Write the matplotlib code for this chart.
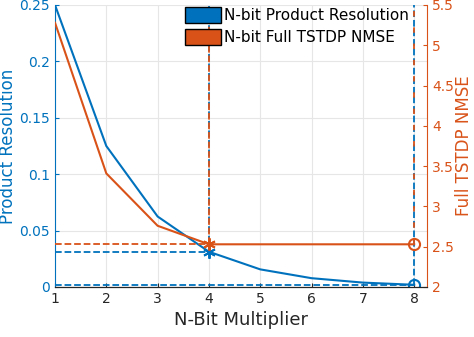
import matplotlib.pyplot as plt
import numpy as np
from matplotlib.patches import Patch

bits = [1, 2, 3, 4, 5, 6, 7, 8]
resolution = [0.25, 0.125, 0.0625, 0.03125, 0.015625, 0.0078125, 0.00390625, 0.001953125]
nmse = [5.28, 3.41, 2.76, 2.53, 2.53, 2.53, 2.53, 2.53]

blue = '#0072BD'
orange = '#D95319'

fig = plt.figure(figsize=(4.74, 3.37), dpi=100)
ax = fig.add_axes([55 / 474, 50 / 337, 372 / 474, 282 / 337])
ax2 = ax.twinx()

ax.set_xlim(1, 8.25)
ax.set_ylim(0, 0.25)
ax2.set_ylim(2, 5.5)

# dashed guides to the two marked points
r4, r8 = resolution[bits.index(4)], resolution[bits.index(8)]
n4, n8 = nmse[bits.index(4)], nmse[bits.index(8)]
ax.plot([1, 4], [r4, r4], '--', color=blue, lw=1.3)
ax.plot([1, 8], [r8, r8], '--', color=blue, lw=1.3)
ax.plot([4, 4], [r4, 0.25], '--', color=blue, lw=1.3)
ax.plot([8, 8], [r8, 0.25], '--', color=blue, lw=1.3)
ax2.plot([1, 4], [n4, n4], '--', color=orange, lw=1.3)
ax2.plot([4, 4], [n4, 5.5], '--', color=orange, lw=1.3)
ax2.plot([8, 8], [n8, 5.5], '--', color=orange, lw=1.3, dashes=(3, 6))

ax.plot(bits, resolution, color=blue, lw=1.5)
ax2.plot(bits, nmse, color=orange, lw=1.5)
ax.plot([4], [r4], marker=(6, 2, 0), ms=9, color=blue, mew=1.4)
ax.plot([8], [r8], 'o', ms=8, mfc='none', color=blue, mew=1.5)
ax2.plot([4], [n4], marker=(6, 2, 0), ms=9, color=orange, mew=1.4)
ax2.plot([8], [n8], 'o', ms=8, mfc='none', color=orange, mew=1.5)

ax.set_xticks(bits)
ax.set_yticks([0, 0.05, 0.1, 0.15, 0.2, 0.25])
ax.set_yticklabels(['0', '0.05', '0.1', '0.15', '0.2', '0.25'])
ax2.set_yticks(np.arange(2, 5.51, 0.5))
ax2.set_yticklabels(['2', '2.5', '3', '3.5', '4', '4.5', '5', '5.5'])
ax.grid(True, color='#e6e6e6', lw=0.8)

ax.tick_params(axis='x', direction='in', labelsize=10, colors='#262626', length=3)
ax.tick_params(axis='y', direction='in', labelsize=10, colors=blue, length=3)
ax2.tick_params(axis='y', direction='in', labelsize=10, colors=orange, length=3)

for a in (ax, ax2):
    a.spines['top'].set_visible(False)
ax.spines['left'].set_color(blue)
ax.spines['right'].set_visible(False)
ax2.spines['left'].set_visible(False)
ax2.spines['right'].set_color(orange)
ax2.spines['bottom'].set_color('#262626')

ax.set_xlabel('N-Bit Multiplier', fontsize=13, color='#262626')
ax.set_ylabel('Product Resolution', fontsize=12, color=blue, labelpad=2)
ax2.set_ylabel('Full TSTDP NMSE', fontsize=12, color=orange, labelpad=1)

handles = [Patch(facecolor=blue, edgecolor='black', lw=1),
           Patch(facecolor=orange, edgecolor='black', lw=1)]
ax2.legend(handles, ['N-bit Product Resolution', 'N-bit Full TSTDP NMSE'],
           loc='upper right', bbox_to_anchor=(0.975, 1.025), frameon=False,
           fontsize=11, handlelength=2.3, handleheight=1.2,
           handletextpad=0.2, labelspacing=0.4, borderaxespad=0.2)

plt.savefig('out.png', dpi=100)
